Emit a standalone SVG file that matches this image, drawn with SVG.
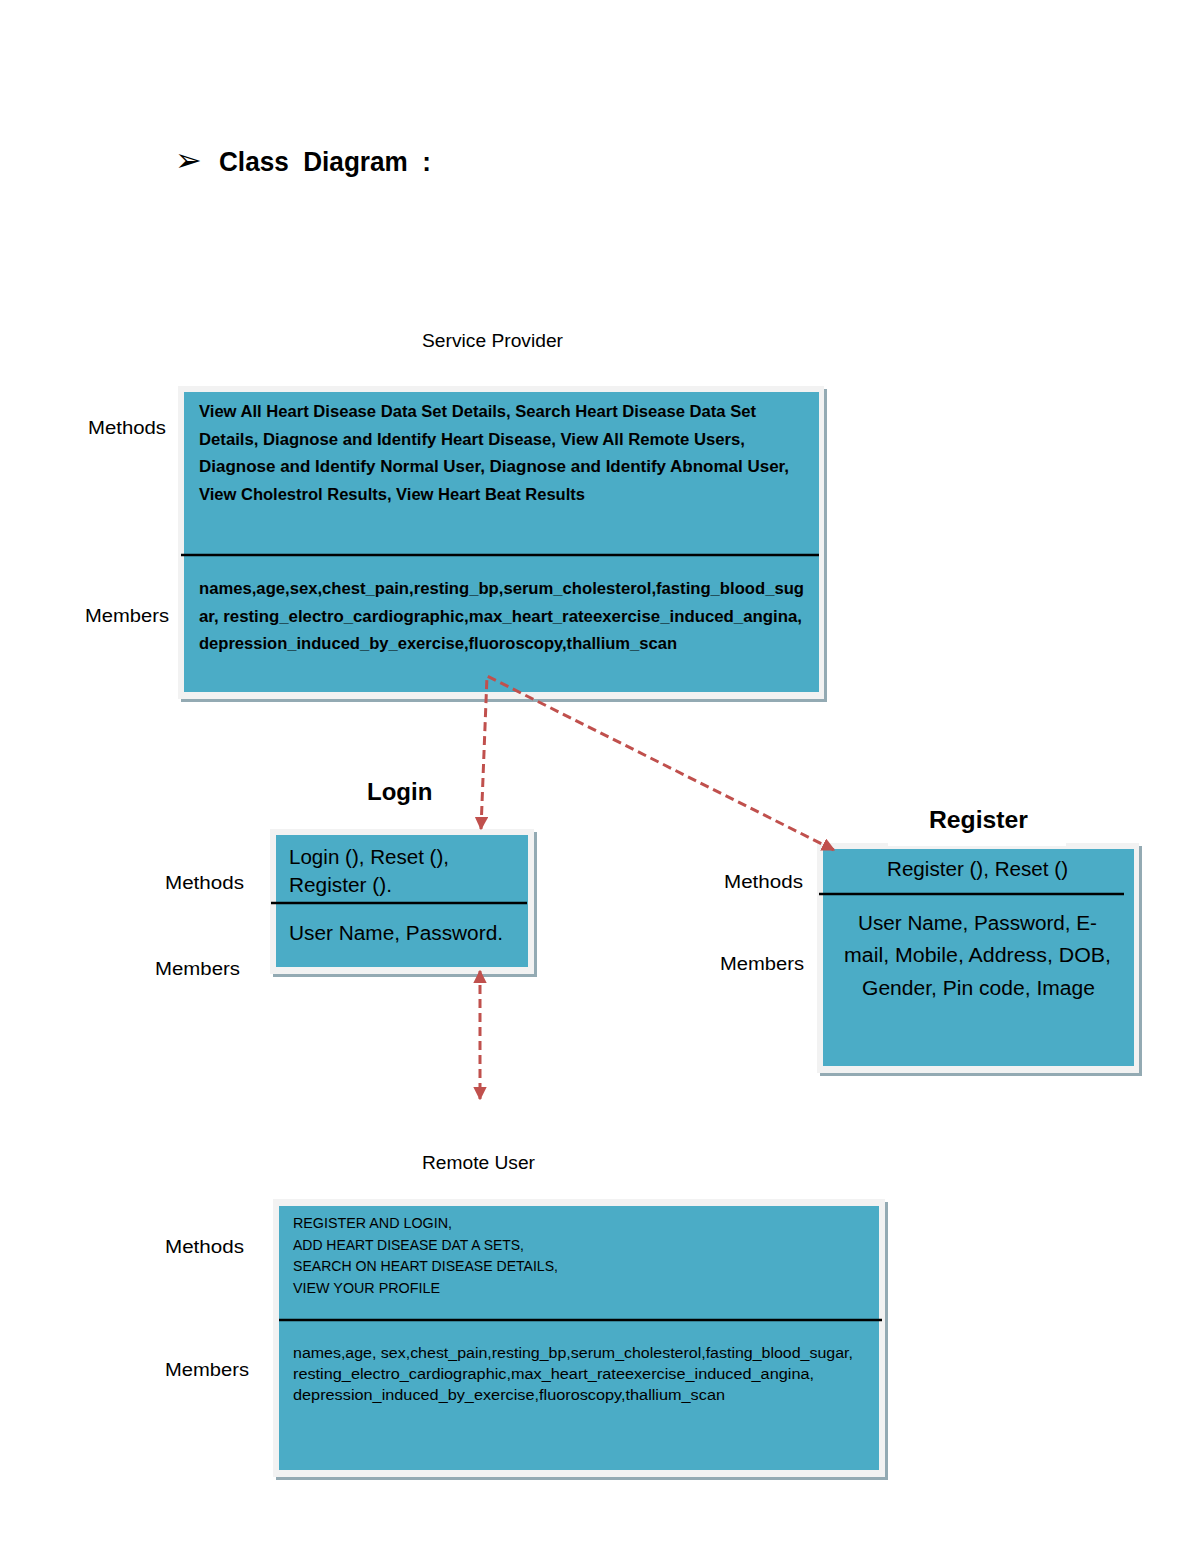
<svg xmlns="http://www.w3.org/2000/svg" width="1200" height="1553" viewBox="0 0 1200 1553">
<style>
.sh{fill:#93aab3}
.fr{fill:#f2f2f2}
.in{fill:#4bacc6}
.dv{stroke:#000;stroke-width:2.5}
.lb{font-family:"Liberation Sans",Arial,sans-serif;font-size:18px;fill:#000}
.t{font-family:"Liberation Sans",Arial,sans-serif;fill:#000}
.b{font-weight:bold}
.cn{fill:none;stroke:#c0504d;stroke-width:3;stroke-dasharray:9,5}
</style>
<defs>
<marker id="ah" viewBox="0 0 10 10" refX="9" refY="5" markerWidth="4.5" markerHeight="4.5" orient="auto-start-reverse" markerUnits="strokeWidth">
<path d="M0,0 L10,5 L0,10 z" fill="#c0504d"/>
</marker>
</defs>
<rect width="1200" height="1553" fill="#fff"/>
<g id="title">
<text x="175" y="171" class="t" font-size="32" font-family="DejaVu Sans,sans-serif">➢</text>
<text x="219" y="171" class="t b" font-size="27" xml:space="preserve" textLength="212" lengthAdjust="spacingAndGlyphs">Class  Diagram  :</text>
</g>
<g id="service-provider">
<text x="422" y="347" class="lb" textLength="141" lengthAdjust="spacingAndGlyphs">Service Provider</text>
<text x="88" y="434" class="lb" textLength="78" lengthAdjust="spacingAndGlyphs">Methods</text>
<text x="85" y="622" class="lb" textLength="84" lengthAdjust="spacingAndGlyphs">Members</text>
<rect class="sh" x="181" y="389" width="646" height="313"/>
<rect class="fr" x="178" y="386" width="646" height="313"/>
<rect class="in" x="184" y="392" width="635" height="300"/>
<line class="dv" x1="181" y1="555" x2="819" y2="555"/>
<g class="t b" font-size="16">
<text x="199" y="417" textLength="557" lengthAdjust="spacingAndGlyphs">View All Heart Disease Data Set Details, Search Heart Disease Data Set</text>
<text x="199" y="445" textLength="546" lengthAdjust="spacingAndGlyphs">Details, Diagnose and Identify Heart Disease, View All Remote Users,</text>
<text x="199" y="472" textLength="590" lengthAdjust="spacingAndGlyphs">Diagnose and Identify Normal User, Diagnose and Identify Abnomal User,</text>
<text x="199" y="500" textLength="386" lengthAdjust="spacingAndGlyphs">View Cholestrol Results, View Heart Beat Results</text>
<text x="199" y="594" textLength="605" lengthAdjust="spacingAndGlyphs">names,age,sex,chest_pain,resting_bp,serum_cholesterol,fasting_blood_sug</text>
<text x="199" y="622" textLength="603" lengthAdjust="spacingAndGlyphs">ar, resting_electro_cardiographic,max_heart_rateexercise_induced_angina,</text>
<text x="199" y="649" textLength="478" lengthAdjust="spacingAndGlyphs">depression_induced_by_exercise,fluoroscopy,thallium_scan</text>
</g>
</g>
<g id="login">
<text x="367" y="800" class="t b" font-size="24">Login</text>
<text x="165" y="889" class="lb" textLength="79" lengthAdjust="spacingAndGlyphs">Methods</text>
<text x="155" y="975" class="lb" textLength="85" lengthAdjust="spacingAndGlyphs">Members</text>
<rect class="sh" x="273" y="832" width="264" height="145"/>
<rect class="fr" x="270" y="829" width="264" height="145"/>
<rect class="in" x="276" y="835" width="252" height="132"/>
<line class="dv" x1="271" y1="903" x2="527" y2="903"/>
<g class="t" font-size="20">
<text x="289" y="864" textLength="160" lengthAdjust="spacingAndGlyphs">Login (), Reset (),</text>
<text x="289" y="892" textLength="103" lengthAdjust="spacingAndGlyphs">Register ().</text>
<text x="289" y="940" textLength="214" lengthAdjust="spacingAndGlyphs">User Name, Password.</text>
</g>
</g>
<g id="register">
<text x="724" y="888" class="lb" textLength="79" lengthAdjust="spacingAndGlyphs">Methods</text>
<text x="720" y="970" class="lb" textLength="84" lengthAdjust="spacingAndGlyphs">Members</text>
<rect class="sh" x="820" y="846" width="322" height="230"/>
<rect class="fr" x="817" y="843" width="322" height="230"/>
<rect fill="#fff" x="888" y="840" width="178" height="6"/>
<rect class="in" x="823" y="849" width="311" height="217"/>
<line class="dv" x1="819" y1="894" x2="1124" y2="894"/>
<text x="929" y="828" class="t b" font-size="24" textLength="99" lengthAdjust="spacingAndGlyphs">Register</text>
<g class="t" font-size="20">
<text x="887" y="876" textLength="181" lengthAdjust="spacingAndGlyphs">Register (), Reset ()</text>
<text x="858" y="930" textLength="239" lengthAdjust="spacingAndGlyphs">User Name, Password, E-</text>
<text x="844" y="962" textLength="267" lengthAdjust="spacingAndGlyphs">mail, Mobile, Address, DOB,</text>
<text x="862" y="995" textLength="233" lengthAdjust="spacingAndGlyphs">Gender, Pin code, Image</text>
</g>
</g>
<g id="remote-user">
<text x="422" y="1169" class="lb" textLength="113" lengthAdjust="spacingAndGlyphs">Remote User</text>
<text x="165" y="1253" class="lb" textLength="79" lengthAdjust="spacingAndGlyphs">Methods</text>
<text x="165" y="1376" class="lb" textLength="84" lengthAdjust="spacingAndGlyphs">Members</text>
<rect class="sh" x="276" y="1202" width="612" height="278"/>
<rect class="fr" x="273" y="1199" width="612" height="278"/>
<rect class="in" x="279" y="1206" width="600" height="264"/>
<line class="dv" x1="279" y1="1320" x2="882" y2="1320"/>
<g class="t" font-size="14">
<text x="293" y="1228" textLength="159" lengthAdjust="spacingAndGlyphs">REGISTER AND LOGIN,</text>
<text x="293" y="1250" textLength="231" lengthAdjust="spacingAndGlyphs">ADD HEART DISEASE DAT A SETS,</text>
<text x="293" y="1271" textLength="265" lengthAdjust="spacingAndGlyphs">SEARCH ON HEART DISEASE DETAILS,</text>
<text x="293" y="1293" textLength="147" lengthAdjust="spacingAndGlyphs">VIEW YOUR PROFILE</text>
<text x="293" y="1358" textLength="560" lengthAdjust="spacingAndGlyphs">names,age, sex,chest_pain,resting_bp,serum_cholesterol,fasting_blood_sugar,</text>
<text x="293" y="1379" textLength="521" lengthAdjust="spacingAndGlyphs">resting_electro_cardiographic,max_heart_rateexercise_induced_angina,</text>
<text x="293" y="1400" textLength="432" lengthAdjust="spacingAndGlyphs">depression_induced_by_exercise,fluoroscopy,thallium_scan</text>
</g>
</g>
<g id="connectors">
<polyline class="cn" points="481,829 487,676 834,850" marker-start="url(#ah)" marker-end="url(#ah)"/>
<line class="cn" x1="480" y1="971" x2="480" y2="1099" marker-start="url(#ah)" marker-end="url(#ah)"/>
</g>
</svg>
